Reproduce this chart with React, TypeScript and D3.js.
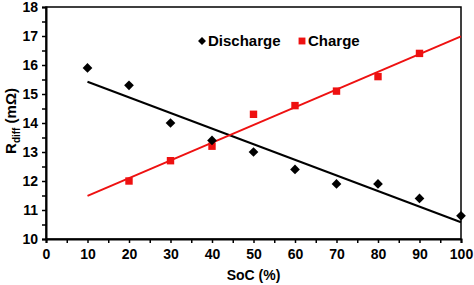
import { useEffect, useRef } from "react";
import * as d3 from "d3";

const socDischarge = [10, 20, 30, 40, 50, 60, 70, 80, 90, 100];
const rDischarge = [15.9, 15.3, 14.0, 13.4, 13.0, 12.4, 11.9, 11.9, 11.4, 10.8];
const socCharge = [20, 30, 40, 50, 60, 70, 80, 90];
const rCharge = [12.0, 12.7, 13.2, 14.3, 14.6, 15.1, 15.6, 16.4];
const xTicks = [0, 10, 20, 30, 40, 50, 60, 70, 80, 90, 100];
const yTicks = [10, 11, 12, 13, 14, 15, 16, 17, 18];

const W = 474;
const H = 285;
const font = "'Liberation Sans', Arial, sans-serif";
const RED = "#ee1111";

// least-squares fit, returns y(x)
function fit(xs: number[], ys: number[]) {
  const mx = d3.mean(xs) as number;
  const my = d3.mean(ys) as number;
  let sxy = 0;
  let sxx = 0;
  xs.forEach((x, i) => {
    sxy += (x - mx) * (ys[i] - my);
    sxx += (x - mx) * (x - mx);
  });
  const b = sxy / sxx;
  return (x: number) => my + b * (x - mx);
}

export default function App() {
  const ref = useRef<SVGSVGElement>(null);

  useEffect(() => {
    if (!ref.current) return;
    const svg = d3.select(ref.current);
    svg.selectAll("*").remove();

    const m = { left: 46, right: 13, top: 7, bottom: 46 };
    const x = d3.scaleLinear().domain([0, 100]).range([m.left, W - m.right]);
    const y = d3.scaleLinear().domain([10, 18]).range([H - m.bottom, m.top]);

    // frame
    svg
      .append("rect")
      .attr("x", x(0))
      .attr("y", y(18))
      .attr("width", x(100) - x(0))
      .attr("height", y(10) - y(18))
      .attr("fill", "none")
      .attr("stroke", "#000")
      .attr("stroke-width", 1.5);

    // x axis
    const xAxis = svg
      .append("g")
      .attr("transform", `translate(0,${y(10)})`)
      .call(
        d3
          .axisBottom(x)
          .tickValues(d3.range(0, 101, 5))
          .tickSize(4)
          .tickFormat((d) => (xTicks.includes(d as number) ? String(d) : ""))
      );
    xAxis.select(".domain").attr("stroke-width", 2);
    xAxis.selectAll(".tick line").attr("stroke-width", 1.5);
    xAxis
      .selectAll(".tick text")
      .attr("font-family", font)
      .attr("font-weight", "bold")
      .attr("font-size", 14)
      .attr("fill", "#000")
      .attr("dy", "0.95em");

    // y axis
    const yAxis = svg
      .append("g")
      .attr("transform", `translate(${x(0)},0)`)
      .call(
        d3
          .axisLeft(y)
          .tickValues(d3.range(10, 18.01, 0.5))
          .tickSize(4)
          .tickFormat((d) => (yTicks.includes(d as number) ? String(d) : ""))
      );
    yAxis.select(".domain").attr("stroke-width", 2);
    yAxis.selectAll(".tick line").attr("stroke-width", 1.5);
    yAxis
      .selectAll(".tick text")
      .attr("font-family", font)
      .attr("font-weight", "bold")
      .attr("font-size", 14)
      .attr("fill", "#000")
      .attr("x", -8);

    // axis titles
    svg
      .append("text")
      .attr("x", (x(0) + x(100)) / 2)
      .attr("y", 280)
      .attr("text-anchor", "middle")
      .attr("font-family", font)
      .attr("font-weight", "bold")
      .attr("font-size", 14)
      .text("SoC (%)");

    const yt = svg
      .append("text")
      .attr("transform", `translate(16,121) rotate(-90)`)
      .attr("text-anchor", "middle")
      .attr("font-family", font)
      .attr("font-weight", "bold")
      .attr("font-size", 15);
    yt.append("tspan").text("R");
    yt.append("tspan").attr("font-size", 10).attr("dy", 4).text("diff");
    yt.append("tspan").attr("dy", -4).text(" (mΩ)");

    // trend lines
    const line = d3
      .line<number>()
      .x((d) => x(d))
      .curve(d3.curveLinear);
    const fd = fit(socDischarge, rDischarge);
    const fc = fit(socCharge, rCharge);
    svg
      .append("path")
      .datum([10, 100])
      .attr("d", line.y((d) => y(fd(d))))
      .attr("fill", "none")
      .attr("stroke", "#000")
      .attr("stroke-width", 2);
    svg
      .append("path")
      .datum([10, 100])
      .attr("d", line.y((d) => y(fc(d))))
      .attr("fill", "none")
      .attr("stroke", RED)
      .attr("stroke-width", 2);

    const diamond = d3.symbol(d3.symbolDiamond2, 60);
    const square = d3.symbol(d3.symbolSquare2, 70);

    svg
      .append("g")
      .selectAll("path")
      .data(socCharge)
      .join("path")
      .attr("d", square())
      .attr("transform", (d, i) => `translate(${x(d)},${y(rCharge[i])})`)
      .attr("fill", RED);

    svg
      .append("g")
      .selectAll("path")
      .data(socDischarge)
      .join("path")
      .attr("d", diamond())
      .attr("transform", (d, i) => `translate(${x(d)},${y(rDischarge[i])})`)
      .attr("fill", "#000");

    // legend
    const lg = svg.append("g").attr("font-family", font).attr("font-weight", "bold").attr("font-size", 15);
    lg.append("path")
      .attr("d", d3.symbol(d3.symbolDiamond2, 40)())
      .attr("transform", "translate(202,41)")
      .attr("fill", "#000");
    lg.append("text").attr("x", 208).attr("y", 46).text("Discharge");
    lg.append("path")
      .attr("d", d3.symbol(d3.symbolSquare2, 60)())
      .attr("transform", "translate(302,41)")
      .attr("fill", RED);
    lg.append("text").attr("x", 308).attr("y", 46).text("Charge");
  }, []);

  return (
    <svg
      ref={ref}
      width={W}
      height={H}
      style={{ position: "absolute", left: 0, top: 0, background: "#fff" }}
    />
  );
}
